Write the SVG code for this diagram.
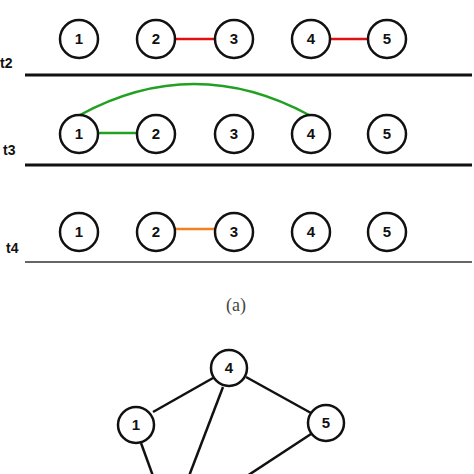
<svg xmlns="http://www.w3.org/2000/svg" width="474" height="474" viewBox="0 0 474 474">
<style>
.n circle{fill:#fff;stroke:#111;stroke-width:2.5}
.n text{font-family:"Liberation Sans",Arial,sans-serif;font-weight:bold;font-size:15px;fill:#111;text-anchor:middle}
.lbl{font-family:"Liberation Sans",Arial,sans-serif;font-weight:bold;font-size:14px;fill:#111}
.e{fill:none;stroke-width:2.5}
</style>
<rect width="474" height="474" fill="#fff"/>
<g id="timelines">
<text class="lbl" x="0" y="68">t2</text>
<line x1="25" y1="75" x2="472" y2="75" stroke="#111" stroke-width="2.8"/>
<text class="lbl" x="3" y="155">t3</text>
<line x1="25" y1="165" x2="472" y2="165" stroke="#111" stroke-width="2.8"/>
<text class="lbl" x="6" y="253">t4</text>
<line x1="25" y1="262" x2="472" y2="262" stroke="#333" stroke-width="1.6"/>
<text x="236" y="311" font-family="Liberation Serif,'Times New Roman',serif" font-size="18" fill="#444" text-anchor="middle">(a)</text>
</g>
<g id="connectors">
<line class="e" x1="175" y1="39" x2="215" y2="39" stroke="#e01010"/>
<line class="e" x1="330" y1="39" x2="368" y2="39" stroke="#e01010"/>
<line class="e" x1="98" y1="133" x2="137" y2="133" stroke="#22a022"/>
<path class="e" d="M80,115 Q194,53 309,115" stroke="#22a022"/>
<line class="e" x1="175" y1="229" x2="215" y2="229" stroke="#f08020"/>
<line class="e" x1="213" y1="378" x2="153" y2="412" stroke="#111"/>
<line class="e" x1="223" y1="387" x2="189" y2="476" stroke="#111"/>
<line class="e" x1="246" y1="377" x2="311" y2="413" stroke="#111"/>
<line class="e" x1="141" y1="443" x2="153" y2="476" stroke="#111"/>
<line class="e" x1="311" y1="434" x2="247" y2="476" stroke="#111"/>
</g>
<g id="t2-n1" class="n"><circle cx="79" cy="39" r="19"/><text x="79" y="44">1</text></g>
<g id="t2-n2" class="n"><circle cx="156" cy="39" r="19"/><text x="156" y="44">2</text></g>
<g id="t2-n3" class="n"><circle cx="234" cy="39" r="19"/><text x="234" y="44">3</text></g>
<g id="t2-n4" class="n"><circle cx="311" cy="39" r="19"/><text x="311" y="44">4</text></g>
<g id="t2-n5" class="n"><circle cx="387" cy="39" r="19"/><text x="387" y="44">5</text></g>
<g id="t3-n1" class="n"><circle cx="79" cy="134" r="19"/><text x="79" y="139">1</text></g>
<g id="t3-n2" class="n"><circle cx="156" cy="134" r="19"/><text x="156" y="139">2</text></g>
<g id="t3-n3" class="n"><circle cx="234" cy="134" r="19"/><text x="234" y="139">3</text></g>
<g id="t3-n4" class="n"><circle cx="311" cy="134" r="19"/><text x="311" y="139">4</text></g>
<g id="t3-n5" class="n"><circle cx="387" cy="134" r="19"/><text x="387" y="139">5</text></g>
<g id="t4-n1" class="n"><circle cx="79" cy="232" r="19"/><text x="79" y="237">1</text></g>
<g id="t4-n2" class="n"><circle cx="156" cy="232" r="19"/><text x="156" y="237">2</text></g>
<g id="t4-n3" class="n"><circle cx="234" cy="232" r="19"/><text x="234" y="237">3</text></g>
<g id="t4-n4" class="n"><circle cx="311" cy="232" r="19"/><text x="311" y="237">4</text></g>
<g id="t4-n5" class="n"><circle cx="387" cy="232" r="19"/><text x="387" y="237">5</text></g>
<g id="b-n4" class="n"><circle cx="229" cy="368" r="18"/><text x="229" y="373">4</text></g>
<g id="b-n1" class="n"><circle cx="136" cy="425" r="18"/><text x="136" y="430">1</text></g>
<g id="b-n5" class="n"><circle cx="326" cy="423" r="18"/><text x="326" y="428">5</text></g>
</svg>
